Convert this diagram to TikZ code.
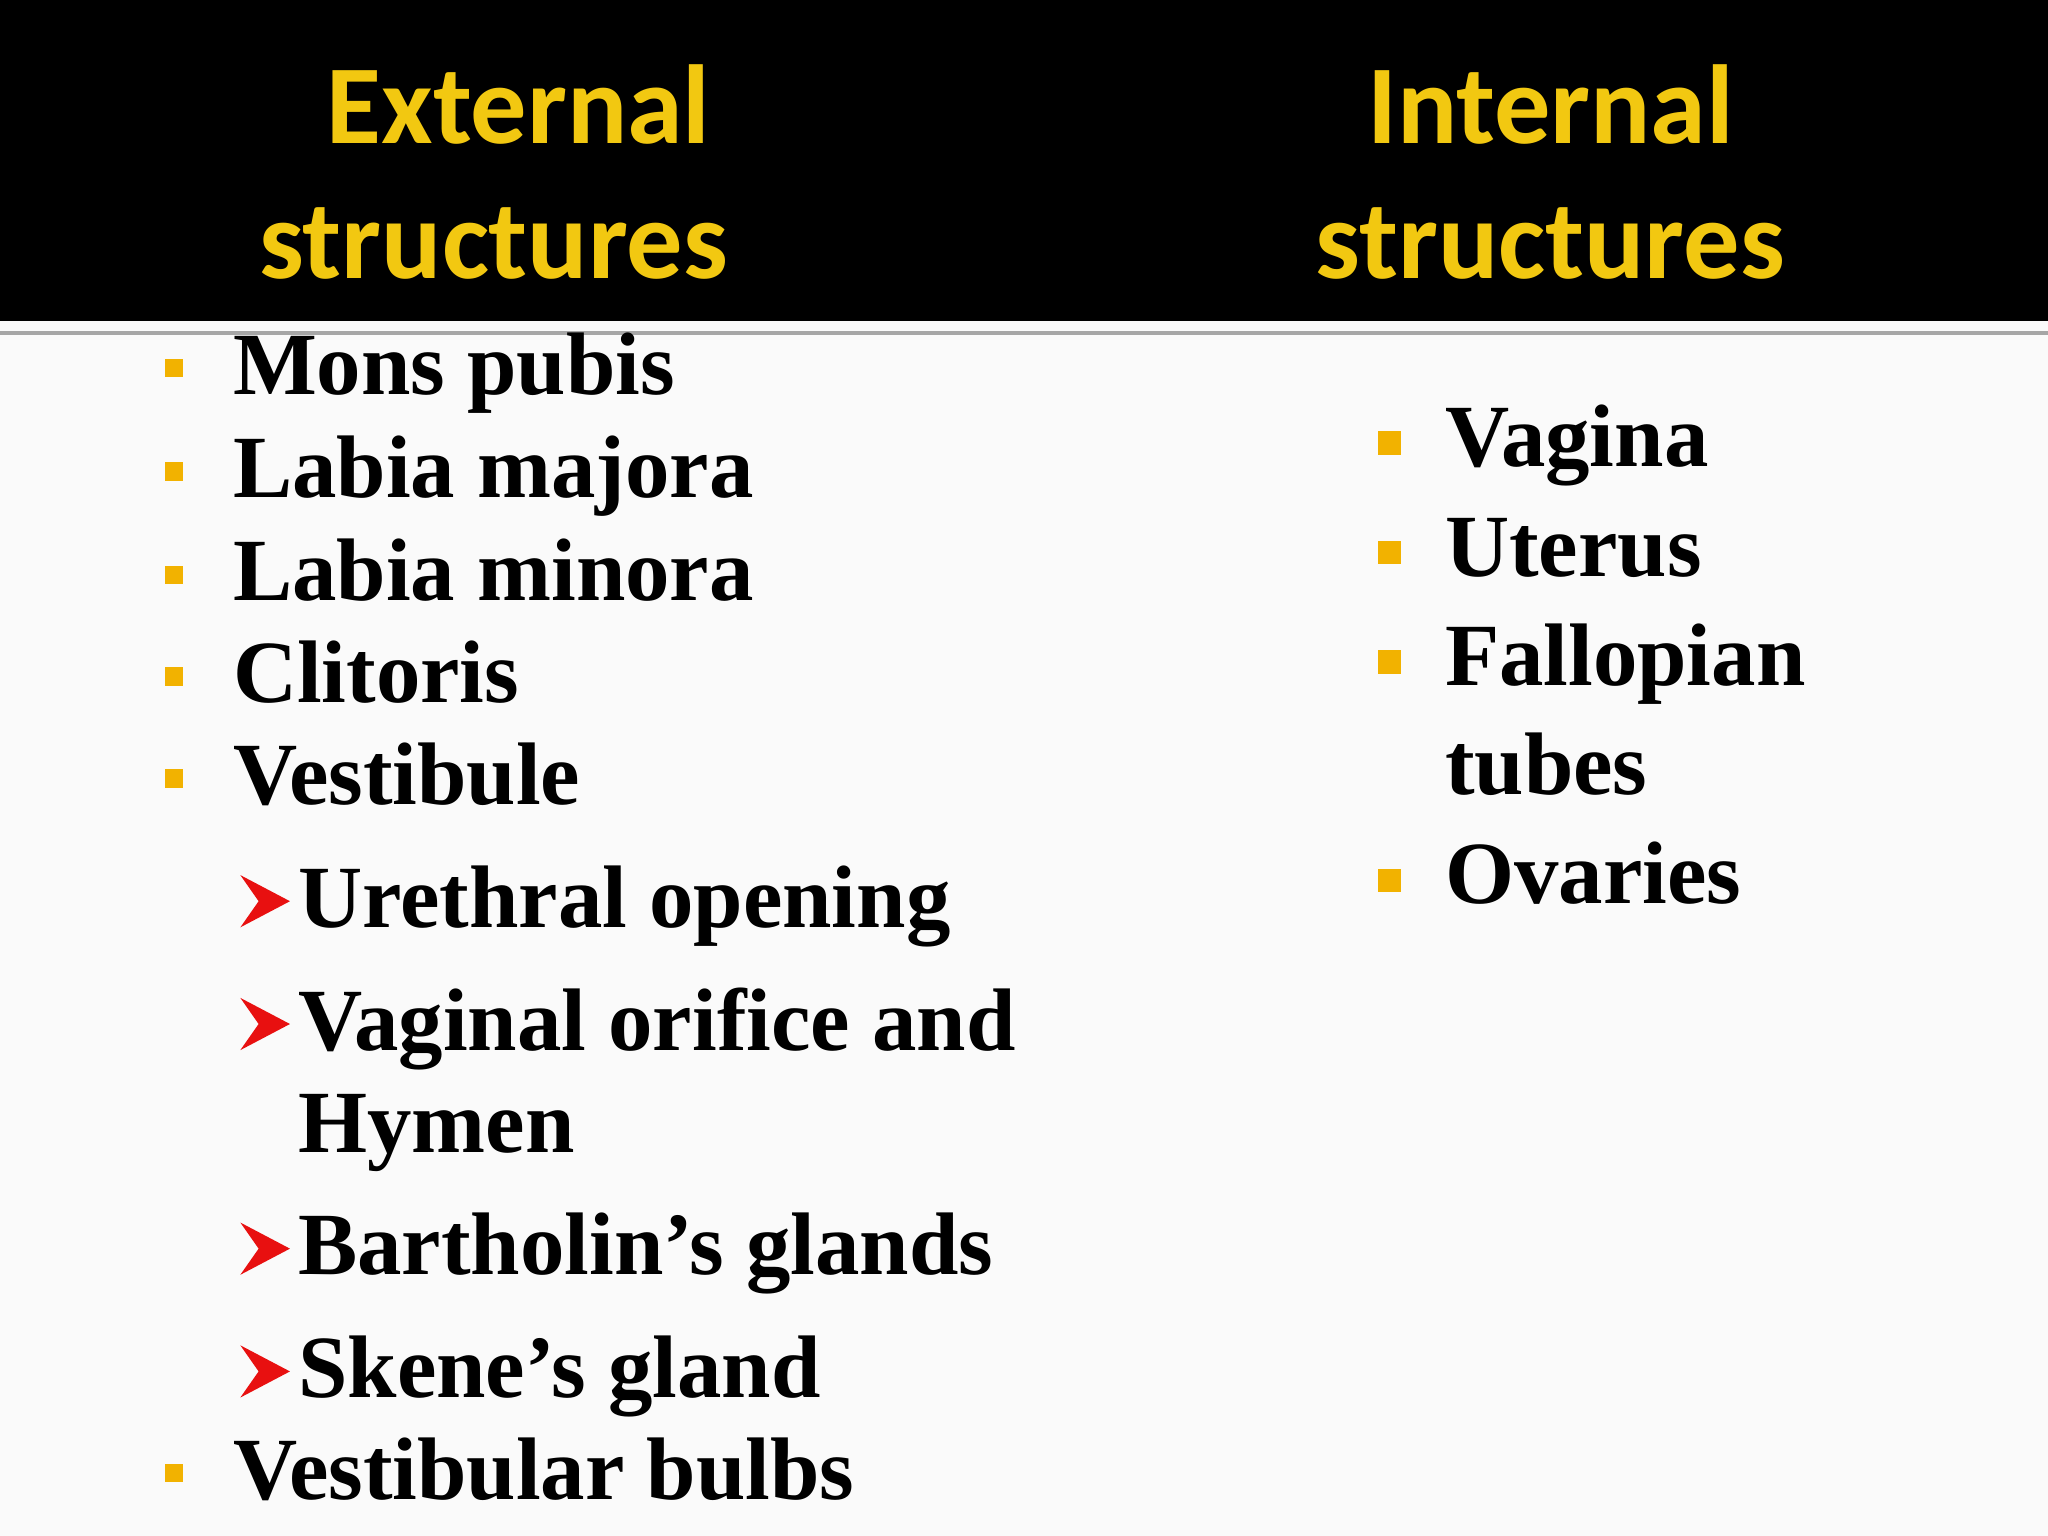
\documentclass[tikz,border=0pt]{standalone}
\usepackage{fontspec}
\setmainfont{Liberation Serif}
\newfontfamily\headfont{Carlito}
\definecolor{hdyellow}{HTML}{F2C811}
\definecolor{bulyellow}{HTML}{F2B200}
\definecolor{arrred}{HTML}{E81010}
\begin{document}
\begin{tikzpicture}[x=0.5pt,y=-0.5pt,
  head/.style={font=\headfont\bfseries\fontsize{43}{43}\selectfont, text=hdyellow, anchor=base, inner sep=0},
  item/.style={font=\bfseries\fontsize{34}{34}\selectfont, anchor=base west, inner sep=0},
  bul/.style={fill=bulyellow, draw=none},
  arr/.style={fill=arrred, draw=none}]
\useasboundingbox (0,0) rectangle (1568,1176);
\fill[white!98!black] (0,0) rectangle (1568,1176);
\fill[black] (0,0) rectangle (1568,246);
\draw[gray!70, line width=1.5pt] (0,255) -- (1568,255);
\node[head] (h1) at (397,110) {External};
\node[head] (h2) at (378,213) {structures};
\node[head] (h3) at (1187,110) {Internal};
\node[head] (h4) at (1187,213) {structures};
% left
\foreach \n/\y/\t in {l1/302/Mons pubis, l2/381/Labia majora, l3/460/Labia minora, l4/538/Clitoris, l5/616/Vestibule, l6/1148/Vestibular bulbs}{
  \fill[bul] (126,\y-27) rectangle +(14,14);
  \node[item] (\n) at (178,\y) {\t};
}
\foreach \n/\y/\t in {s1/710/Urethral opening, s2/804/Vaginal orifice and, s4/976/Bartholin's glands, s5/1070/Skene’s gland}{
  \fill[arr] (184,\y-40) -- (222,\y-20) -- (184,\y) -- (198,\y-20) -- cycle;
  \node[item] (\n) at (228,\y) {\t};
}
\node[item] (s3) at (228,882) {Hymen};
% right
\foreach \n/\y/\t in {r1/357/Vagina, r2/441/Uterus, r3/525/Fallopian, r5/692/Ovaries}{
  \fill[bul] (1055,\y-27) rectangle +(18,18);
  \node[item] (\n) at (1106,\y) {\t};
}
\node[item] (r4) at (1106,608) {tubes};
\end{tikzpicture}
\end{document}
